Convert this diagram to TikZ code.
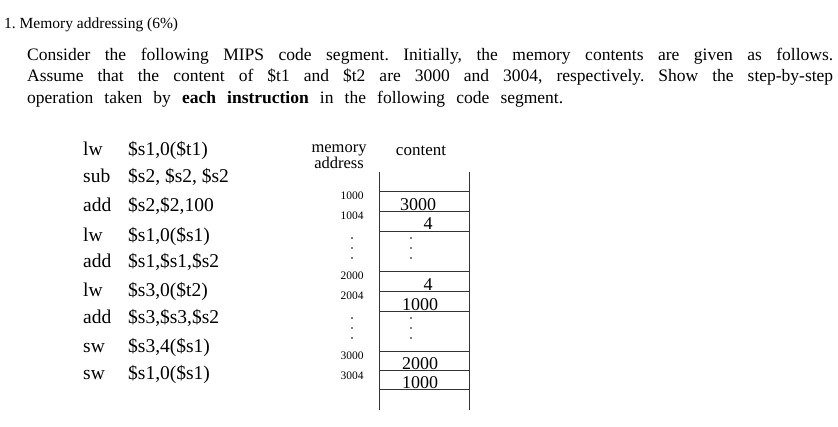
\documentclass[tikz,border=0pt]{standalone}
\usepackage{fontspec}
\setmainfont{Liberation Serif}
\frenchspacing
\begin{document}
\begin{tikzpicture}[x=1pt,y=-1pt,
  t/.style={anchor=base west,inner sep=0pt,font=\fontsize{17.5}{20}\selectfont},
  code/.style={anchor=base west,inner sep=0pt,font=\fontsize{19.5}{20}\selectfont},
  addr/.style={inner sep=0pt,font=\fontsize{11.5}{12}\selectfont},
  val/.style={inner sep=0pt,font=\fontsize{18}{18}\selectfont},
  ln/.style={draw=black!80,line width=0.6pt}]
\useasboundingbox (0,0) rectangle (838,426);
\node[t,font=\fontsize{15.5}{18}\selectfont] (title) at (4,28) {1. Memory addressing (6\%)};
\node[t] (p1) at (27,60) {\makebox[806pt][s]{Consider the following MIPS code segment. Initially, the memory contents are given as follows.}};
\node[t] (p2) at (27,81) {\makebox[806pt][s]{Assume that the content of \$t1 and \$t2 are 3000 and 3004, respectively. Show the step-by-step}};
\node[t] (p3) at (27,103) {\makebox[536pt][s]{operation taken by \textbf{each instruction} in the following code segment.}};
\foreach \m/\o/\y [count=\i] in {lw/{\$s1,0(\$t1)}/155, sub/{\$s2, \$s2, \$s2}/182, add/{\$s2,\$2,100}/211, lw/{\$s1,0(\$s1)}/241, add/{\$s1,\$s1,\$s2}/267, lw/{\$s3,0(\$t2)}/296, add/{\$s3,\$s3,\$s2}/323, sw/{\$s3,4(\$s1)}/352, sw/{\$s1,0(\$s1)}/379}{
  \node[code] (m\i) at (83,\y) {\m};
  \node[code] (o\i) at (128,\y) {\o};
}
\node[inner sep=0pt,align=center,font=\fontsize{16.5}{16}\selectfont] (ma) at (339,157) {memory\\address};
\node[inner sep=0pt,font=\fontsize{17}{16}\selectfont] (ct) at (421,151) {content};
\coordinate (tl) at (379,172); \coordinate (bl) at (379,410);
\coordinate (tr) at (469,172); \coordinate (br) at (469,410);
\draw[ln] (tl) -- (bl); \draw[ln] (tr) -- (br);
\foreach \y in {191,211,231,271,291,311,351,370,389}{
  \draw[ln] (379,\y) -- (469,\y);
}
\foreach \a/\y in {1000/196,1004/216,2000/276,2004/296,3000/356,3004/376}{
  \node[addr] (a\a) at (352,\y) {\a};
}
\foreach \y in {238,248,258,318,328,338}{
  \fill (352,\y) circle (0.9);
  \fill (411,\y) circle (0.9);
}
\foreach \v/\x/\y [count=\i] in {3000/418/205,4/428/224,4/428/285,1000/420/305,2000/420/364,1000/420/383}{
  \node[val] (v\i) at (\x,\y) {\v};
}
\end{tikzpicture}
\end{document}
